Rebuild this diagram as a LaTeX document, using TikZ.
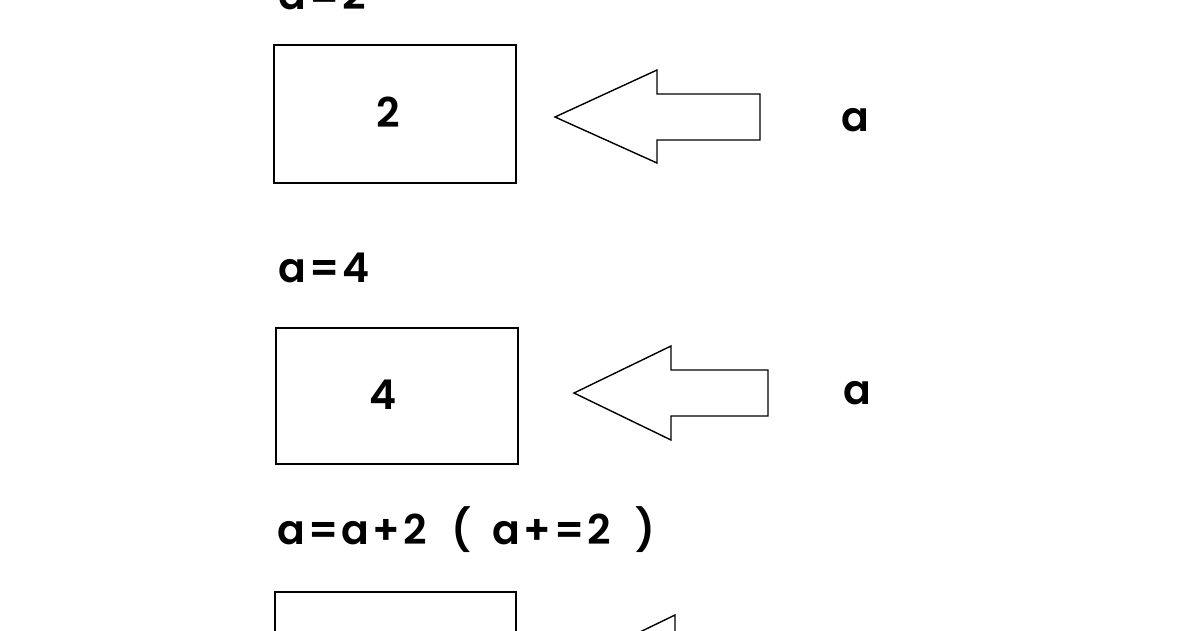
\documentclass[tikz,border=0pt]{standalone}
\usepackage{fontspec}
\setmainfont{Poppins}[UprightFont=* SemiBold,LetterSpace=8]
\begin{document}
\begin{tikzpicture}[x=1pt,y=-1pt,
  lbl/.style={font=\fontsize{41}{43}\selectfont,inner sep=0pt},
  box/.style={draw,line width=1.6pt},
  arr/.style={draw,line width=1.4pt,line join=miter}]
\useasboundingbox (0,0) rectangle (1200,630);
\clip (0,0) rectangle (1200,630);
\node[lbl,anchor=west] (t1) at (278,-6) {a=2};
\draw[box] (274,45) rectangle (516,183);
\node[lbl] (v1) at (388,112) {2};
\draw[arr] (555,117) -- (657,70) -- (657,94) -- (760,94) -- (760,140) -- (657,140) -- (657,163) -- cycle;
\node[lbl] (a1) at (855,120) {a};
\node[lbl,anchor=west] (t2) at (278,268) {a=4};
\draw[box] (276,328) rectangle (518,464);
\node[lbl] (v2) at (383,395) {4};
\draw[arr] (574,393) -- (671,346) -- (671,370) -- (768,370) -- (768,416) -- (671,416) -- (671,440) -- cycle;
\node[lbl] (a2) at (857,393) {a};
\node[lbl,anchor=west] (t3) at (277,530) {a=a+2\hspace{0.6em}(\hspace{0.5em}a+=2\hspace{0.6em})};
\draw[box] (275,592) rectangle (516,730);
\draw[arr] (578,662) -- (675,615) -- (675,639) -- (772,639) -- (772,685) -- (675,685) -- (675,709) -- cycle;
\end{tikzpicture}
\end{document}
